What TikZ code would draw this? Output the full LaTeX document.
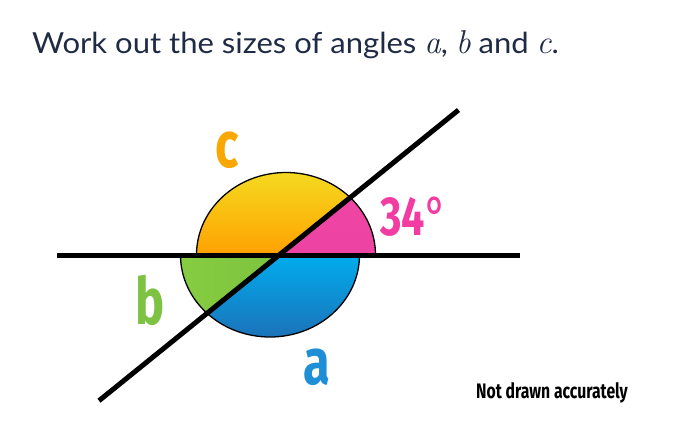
\documentclass[tikz,border=0pt]{standalone}
\usepackage{fontspec}
\setmainfont{Lato}[FakeStretch=1.07]
\newfontfamily\labelfont[FakeStretch=0.75]{Fira Sans}
\newfontfamily\letterfont{Latin Modern Roman}
\newcommand{\ltr}[1]{{\letterfont\itshape\fontsize{33}{33}\selectfont #1}}
\usetikzlibrary{calc,positioning}

\definecolor{titlecol}{HTML}{1F2A44}
\definecolor{ccol}{HTML}{F8A800}
\definecolor{pinkcol}{HTML}{F23CA2}
\definecolor{bcol}{HTML}{7DC242}
\definecolor{acol}{HTML}{1E8ED6}
\definecolor{yeltop}{HTML}{F5DA20}
\definecolor{yelbot}{HTML}{FFA000}
\definecolor{bluetop}{HTML}{00ADEF}
\definecolor{bluebot}{HTML}{1C72B8}
\definecolor{greenl}{HTML}{8DD443}
\definecolor{greenr}{HTML}{6DB33A}

\begin{document}
\begin{tikzpicture}[x=1pt,y=1pt]
        \useasboundingbox (0,0) rectangle (698,-423);

        % Setup the styles
        \tikzset{big label/.style={inner sep=0pt,
                                   font=\labelfont\bfseries\fontsize{65}{65}\selectfont},
                 main line/.style={line width=5pt},
                 rim/.style={line width=1.3pt}}

        % Points of the two lines
        \coordinate (h1) at (57,-255);
        \coordinate (h2) at (520,-255);
        \coordinate (d1) at (99,-400.7);
        \coordinate (d2) at (458.5,-110);

        % Upper half: c and 34
        \begin{scope}
            \clip (196.5,-255) arc[start angle=180,end angle=0,x radius=89.5,y radius=82.5] -- cycle;
            \shade[top color=yeltop, bottom color=yelbot] (150,-172) rectangle (400,-256);
            \shade[top color=pinkcol!92!white, bottom color=pinkcol!95!black] (d1) -- (d2) -- (600,-110) -- (600,-400) -- cycle;
        \end{scope}
        \draw[rim] (196.5,-255) arc[start angle=180,end angle=0,x radius=89.5,y radius=82.5];

        % Lower half: b and a
        \begin{scope}
            \clip (180.5,-255) arc[start angle=180,end angle=360,x radius=89.5,y radius=82] -- cycle;
            \shade[top color=bluetop, bottom color=bluebot] (150,-254) rectangle (400,-338);
            \shade[left color=greenl, right color=greenr] (d1) -- (d2) -- (100,-110) -- cycle;
        \end{scope}
        \draw[rim] (180.5,-255) arc[start angle=180,end angle=360,x radius=89.5,y radius=82];

        % Draw the lines
        \draw[main line] (h1) -- (h2);
        \draw[main line] (d1) -- (d2);

        % Labels
        \node[anchor=base west, font=\fontsize{29}{31}\selectfont, text=titlecol, inner sep=0pt]
            at (32,-53) (title) {Work out the sizes of angles \ltr{a}, \ltr{b} and \ltr{c}.};
        \node[big label, text=ccol] at (227.5,-150) (lc) {c};
        \node[big label, text=pinkcol, font=\labelfont\bfseries\fontsize{55}{55}\selectfont] at (413.5,-217) (la) {34{\mdseries °}};
        \node[big label, text=bcol] at (150.5,-300) (lb) {b};
        \node[big label, text=acol] at (317,-367.5) (ld) {a};
        \node[anchor=base west, inner sep=0pt, font=\labelfont\bfseries\fontsize{21}{21}\selectfont]
            at (476,-398.5) (note) {Not drawn accurately};
\end{tikzpicture}
\end{document}
